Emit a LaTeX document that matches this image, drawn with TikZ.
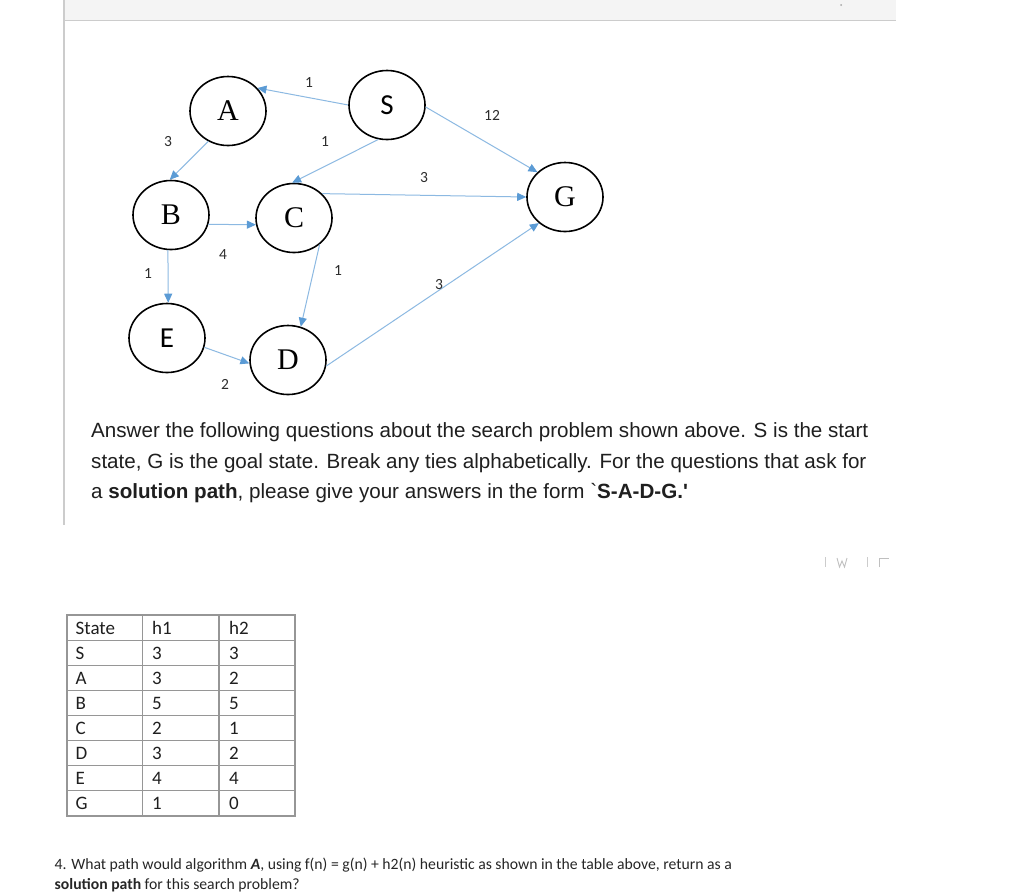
\documentclass[tikz,border=0pt]{standalone}
\usepackage{fontspec}
\setmainfont{Liberation Serif}
\newfontfamily\parafont[Ligatures=TeXOff]{Liberation Sans}
\newfontfamily\calfont{Carlito}
\usepackage{xcolor}
\usetikzlibrary{arrows.meta,shapes.geometric}

\definecolor{edgeblue}{RGB}{91,155,213}
\definecolor{barfill}{RGB}{244,244,244}
\definecolor{rulegray}{RGB}{204,204,204}
\definecolor{gridgray}{RGB}{150,150,150}
\definecolor{labelgray}{RGB}{45,45,45}

\begin{document}
\begin{tikzpicture}[x=1pt,y=-1pt,>={Triangle[length=9pt,width=8pt,color=edgeblue]},
  state/.style={ellipse, draw=black, line width=1.6pt, fill=white,
                minimum width=76pt, minimum height=69pt, inner sep=0pt},
  serifletter/.style={font=\rmfamily\fontsize{30}{30}\selectfont},
  sansletter/.style={font=\calfont\fontsize{29}{29}\selectfont},
  cost/.style={font=\calfont\fontsize{15.5}{15.5}\selectfont, text=labelgray},
  link/.style={->, edgeblue!70, line width=1pt},
  textline/.style={anchor=base west, inner sep=0pt, text=black!88,
                   font=\parafont\fontsize{20.6}{20.6}\selectfont},
  cell/.style={anchor=base west, inner sep=0pt, text=black!88,
               font=\calfont\fontsize{19}{19}\selectfont},
  noteline/.style={anchor=base west, inner sep=0pt, text=black!85,
                   font=\calfont\fontsize{15.7}{15.7}\selectfont}]

  \useasboundingbox (0,0) rectangle (1024,895);
  \fill[white] (0,0) rectangle (1024,895);

  % ── page frame ──────────────────────────────────────────────────────
  \fill[barfill] (64,0) rectangle (896,20);
  \draw[rulegray, line width=1.5pt] (64,20.5) -- (896,20.5);
  \draw[rulegray, line width=1.2pt] (64,0) -- (64,525);
  \fill[gray!70] (841,5) circle (1);

  % ── the states ──────────────────────────────────────────────────────
  \node[state, serifletter] (A) at (228,111) {A};
  \node[state, sansletter]  (S) at (387,105) {S};
  \node[state, serifletter] (B) at (171,215) {B};
  \node[state, serifletter] (C) at (294,218) {C};
  \node[state, serifletter] (G) at (565,197) {G};
  \node[state, sansletter]  (E) at (167,338) {E};
  \node[state, serifletter] (D) at (288,360) {D};

  % ── the moves and their costs ───────────────────────────────────────
  \draw[link] (S.west)  -- (A.38);
  \draw[link] (A.-123)  -- (B.92);
  \draw[link] (S.-104)  -- (C.93);
  \draw[link] (B.-14)   -- (C.190);
  \draw[link] (C.41)    -- (G.180);
  \draw[link] (S.-3)    -- (G.138);
  \draw[link] (B.-95)   -- (E.88);
  \draw[link] (C.-46)   -- (D.69);
  \draw[link] (E.-14)   -- (D.185);
  \draw[link] (D.-9)    -- (G.225);

  \node[cost] (wSA) at (309,83)  {1};
  \node[cost] (wAB) at (168,142) {3};
  \node[cost] (wSC) at (325,142) {1};
  \node[cost] (wCG) at (424,178) {3};
  \node[cost] (wSG) at (492,115) {12};
  \node[cost] (wBC) at (223,255) {4};
  \node[cost] (wBE) at (148,274) {1};
  \node[cost] (wCD) at (338,271) {1};
  \node[cost] (wDG) at (439,285) {3};
  \node[cost] (wED) at (225,384) {2};

  % ── the question text ───────────────────────────────────────────────
  \node[textline] (q1) at (91,437)
    {Answer the following questions about the search problem shown above. S is the start};
  \node[textline] (q2) at (91,468)
    {state, G is the goal state. Break any ties alphabetically. For the questions that ask for};
  \node[textline] (q3) at (91,498.5)
    {a \textbf{solution path}, please give your answers in the form \symbol{"60}\textbf{S-A-D-G.\symbol{"27}}};

  % ── faint toolbar marks ─────────────────────────────────────────────
  \draw[gray!40, line width=0.8pt] (825,557) -- (825,567);
  \draw[gray!50, line width=0.9pt] (837,558) -- (839.5,567) -- (842,561) -- (844.5,567) -- (847,558);
  \draw[gray!40, line width=0.8pt] (867,557) -- (867,567);
  \draw[gray!50, line width=0.9pt] (879,567) -- (879,558) -- (889,558);

  % ── heuristic table ─────────────────────────────────────────────────
  \draw[gridgray, line width=1.2pt] (67,615) rectangle (295,816);
  \foreach \k in {1,...,7}
    \draw[gridgray, line width=1.1pt] (67,{615+25.125*\k}) -- (295,{615+25.125*\k});
  \foreach \x in {142.5,219}
    \draw[gridgray, line width=1.1pt] (\x,615) -- (\x,816);

  \foreach \s/\p/\q [count=\k from 0] in
      {State/h1/h2, S/3/3, A/3/2, B/5/5, C/2/1, D/3/2, E/4/4, G/1/0} {
    \node[cell] (st\k) at (75.5,{634+25.1*\k})  {\s};
    \node[cell] (ha\k) at (152,{634+25.1*\k}) {\p};
    \node[cell] (hb\k) at (229,{634+25.1*\k}) {\q};
  }

  % ── question 4 ──────────────────────────────────────────────────────
  \node[noteline] (n1) at (54.5,869)
    {4. What path would algorithm \textbf{\textit{A}}, using f(n) = g(n) + h2(n) heuristic as shown in the table above, return as a};
  \node[noteline] (n2) at (54.5,889)
    {\textbf{solution path} for this search problem?};

\end{tikzpicture}
\end{document}
